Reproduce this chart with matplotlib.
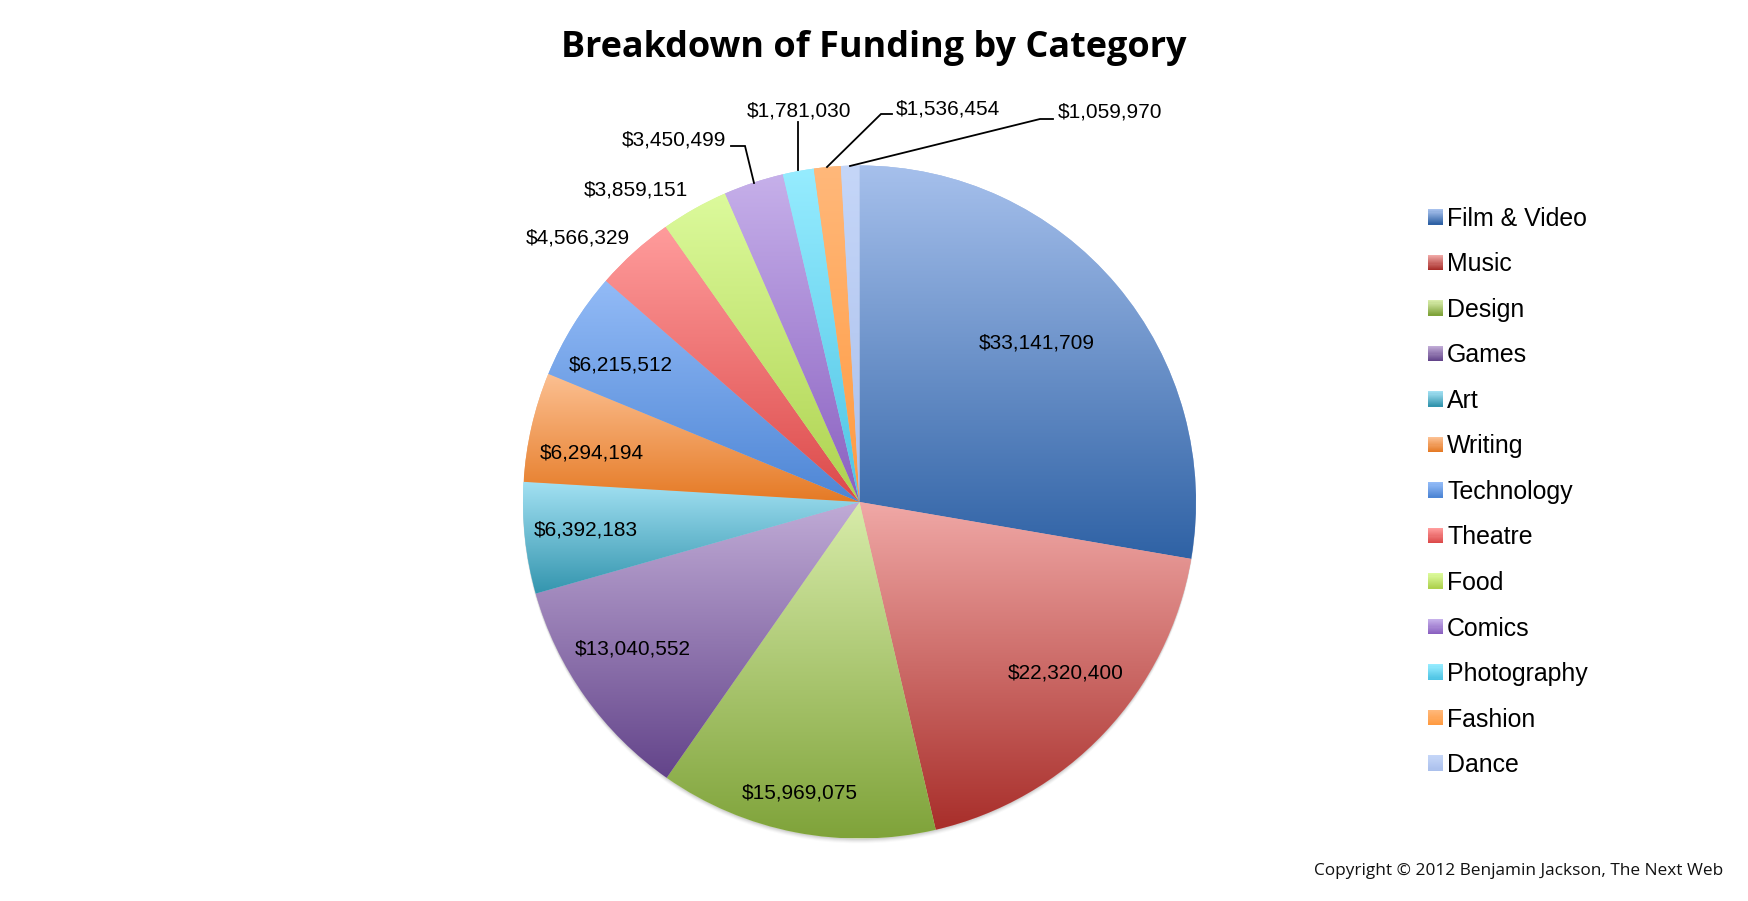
import numpy as np
import matplotlib
matplotlib.use("Agg")
import matplotlib.pyplot as plt
from matplotlib.colors import to_rgb
from matplotlib.patches import Circle, Rectangle, Patch
from matplotlib.legend_handler import HandlerBase

categories = ["Film & Video", "Music", "Design", "Games", "Art", "Writing", "Technology",
              "Theatre", "Food", "Comics", "Photography", "Fashion", "Dance"]
funding = [33141709, 22320400, 15969075, 13040552, 6392183, 6294194, 6215512,
           4566329, 3859151, 3450499, 1781030, 1536454, 1059970]
color_top = ["#a6c0ec", "#f0a8a6", "#d8ecaa", "#c0abd6", "#a2e0f2", "#fcc092", "#93bbf7",
             "#ff9c9c", "#dcfa9c", "#c6b0ea", "#96ecff", "#ffb87a", "#c5d6f8"]
color_bottom = ["#2f62a5", "#a82e2a", "#7fa33a", "#63448a", "#3395ae", "#e57a25", "#4e86d5",
                "#dc4a4a", "#aed24f", "#8a60c0", "#4fc4e4", "#ff9a40", "#abc0ec"]

# layout, in pixels of the 1748x901 picture (y measured from the top)
W, H = 1748, 901
CX, CY, R = 859.5, 502, 336.5
label_xy = [(1037, 343), (1066, 673), (800, 793), (633, 649), (586, 530), (592, 453), (621, 365),
            (578, 238), (636, 190), (674, 140), (799, 111), (948, 109), (1110, 112)]
leaders = {9: [(731, 146), (745, 146), (754, 183)],
           10: [(798, 122), (798, 170)],
           11: [(892, 114), (881, 114), (827, 167)],
           12: [(1053, 119), (1040, 119), (850, 166)]}


def flip(points):
    return [(x, H - y) for x, y in points]


def fmt(v):
    return "${:,}".format(v)


def ramp(top, bottom, n=256):
    t = np.linspace(0, 1, n)[:, None, None]
    return (1 - t) * np.array(to_rgb(top))[None, None, :] + t * np.array(to_rgb(bottom))[None, None, :]


fig = plt.figure(figsize=(W / 100, H / 100), dpi=100, facecolor="white")
ax = fig.add_axes([0, 0, 1, 1])

# soft shadow under the pie
for off, grow, a in [(7, 0, 0.02), (6, 0, 0.03), (5, 0, 0.04), (4, 0, 0.05), (3, 0, 0.06), (2, 0, 0.08)]:
    ax.add_patch(Circle((CX, H - CY + 2 - off), R + grow, fc="black", ec="none", alpha=a, zorder=1))

wedges, _ = ax.pie(funding, startangle=90, counterclock=False, center=(CX, H - CY), radius=R,
                   colors=color_top, wedgeprops=dict(linewidth=0))
ax.set_xlim(0, W)
ax.set_ylim(0, H)
ax.set_aspect("auto")
ax.axis("off")

# vertical gradient per slice, clipped to the slice
for w, top, bottom in zip(wedges, color_top, color_bottom):
    w.set_zorder(2)
    ext = w.get_extents().transformed(ax.transData.inverted())
    im = ax.imshow(ramp(top, bottom), extent=(ext.x0, ext.x1, ext.y0, ext.y1), origin="upper",
                   aspect="auto", zorder=3, interpolation="bilinear")
    im.set_clip_path(w)
ax.set_xlim(0, W)
ax.set_ylim(0, H)

for v, (x, y) in zip(funding, label_xy):
    ax.text(x, H - y, fmt(v), ha="center", va="center", fontsize=15,
            family="Liberation Sans", color="black", zorder=5)

for pts in leaders.values():
    xs, ys = zip(*flip(pts))
    ax.plot(xs, ys, color="black", lw=1.3, zorder=4, solid_joinstyle="miter")


class GradientHandler(HandlerBase):
    def create_artists(self, legend, orig, xd, yd, width, height, fontsize, trans):
        top, bottom = orig.top, orig.bottom
        artists = []
        n = 14
        for i in range(n):
            c = ramp(top, bottom, n)[i, 0]
            artists.append(Rectangle((-xd, -yd + height * (n - 1 - i) / n), width, height / n + 0.2,
                                     fc=c, ec="none", transform=trans))
        return artists


handles = []
for c, top, bottom in zip(categories, color_top, color_bottom):
    p = Patch(label=c)
    p.top, p.bottom = top, bottom
    handles.append(p)

leg = ax.legend(handles=handles, loc="upper left", bbox_to_anchor=(1421 / W, 1 - 199.5 / H),
                bbox_transform=fig.transFigure, frameon=False, prop=dict(family="Liberation Sans", size=17.9),
                handlelength=0.57, handleheight=0.57, handletextpad=0.18, labelspacing=0.865,
                borderpad=0, borderaxespad=0.3, handler_map={Patch: GradientHandler()})

fig.text(874 / W, 1 - 48.5 / H, "Breakdown of Funding by Category", ha="center", va="center",
         fontsize=25.9, fontweight="bold", family="Open Sans", color="black")
fig.text(1723 / W, 1 - 871 / H, "Copyright \u00a9 2012 Benjamin Jackson, The Next Web", ha="right", va="center",
         fontsize=12.4, family="Open Sans", color="#111111")

fig.savefig("out.png", dpi=100, facecolor="white")
